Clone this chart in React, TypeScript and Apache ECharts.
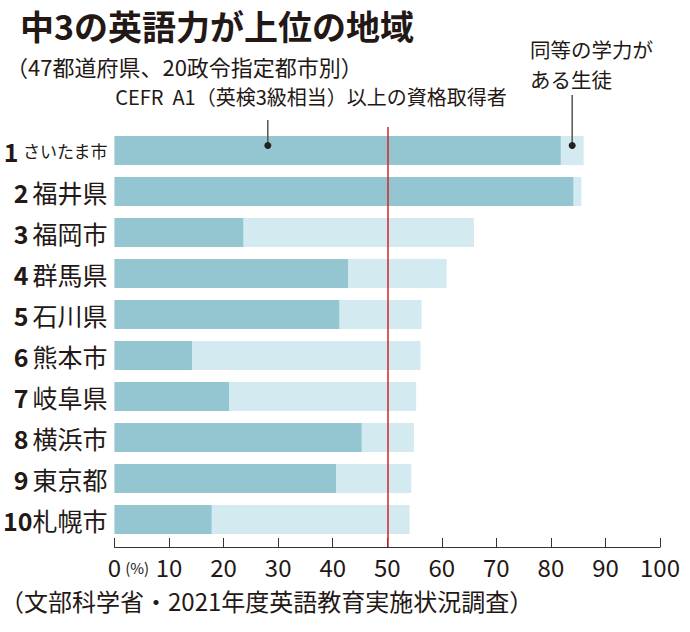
import React, { useEffect, useRef } from "react";
import * as echarts from "echarts";

const ranks = [1, 2, 3, 4, 5, 6, 7, 8, 9, 10];
const regions = ["さいたま市", "福井県", "福岡市", "群馬県", "石川県", "熊本市", "岐阜県", "横浜市", "東京都", "札幌市"];
// CEFR A1 (英検3級相当) 以上の資格取得者
const certified = [81.8, 84.1, 23.6, 42.8, 41.2, 14.2, 21.0, 45.3, 40.6, 17.8];
// 同等の学力がある生徒 (合計)
const equivalent = [86.0, 85.6, 65.9, 60.9, 56.3, 56.1, 55.3, 54.9, 54.4, 54.1];
const referenceLine = 50;

const title = "中3の英語力が上位の地域";
const subtitle = "（47都道府県、20政令指定都市別）";
const noteCert = "CEFR  A1（英検3級相当）以上の資格取得者";
const noteEquiv1 = "同等の学力が";
const noteEquiv2 = "ある生徒";
const source = "（文部科学省・2021年度英語教育実施状況調査）";

const FONT = '"Noto Sans CJK JP", "Noto Sans", sans-serif';
const INK = "#231815";

export default function App() {
  const ref = useRef<HTMLDivElement>(null);

  useEffect(() => {
    document.body.style.margin = "0";
    if (!ref.current) return;
    const chart = echarts.init(ref.current, null, { renderer: "svg" });
    const cats = regions.map((r, i) => `${ranks[i]}|${r}`);

    chart.setOption({
      animation: false,
      textStyle: { fontFamily: FONT, color: INK },
      grid: [
        { left: 114.5, right: 30, top: 130, bottom: 92 },
        { left: 114.5, right: 30, top: 127, bottom: 85 },
      ],
      xAxis: [
        {
          type: "value",
          gridIndex: 0,
          min: 0,
          max: 100,
          interval: 10,
          offset: 7,
          splitLine: { show: false },
          axisLine: { show: true, lineStyle: { color: "#333", width: 1.2 } },
          axisTick: { show: true, inside: true, length: 9, lineStyle: { color: "#333", width: 1 } },
          axisLabel: {
            margin: 7,
            lineHeight: 24,
            color: INK,
            fontFamily: FONT,
            fontSize: 24,
            formatter: (v: number) =>
              v === 0 ? "{e|}{a|0}{p|(%)}" : `{a|${v}}`,
            rich: {
              a: { fontSize: 24, fontFamily: FONT, color: INK, lineHeight: 24 },
              p: { fontSize: 15, fontFamily: FONT, color: INK, width: 28, align: "left", padding: [3, 0, 0, 2] },
              e: { width: 30 },
            },
          },
        },
        { type: "value", gridIndex: 1, min: 0, max: 100, show: false },
      ],
      yAxis: [
        {
          type: "category",
          gridIndex: 0,
          data: cats,
          inverse: true,
          axisLine: { show: false },
          axisTick: { show: false },
          axisLabel: {
            margin: 7,
            formatter: (v: string) => {
              const [r, name] = v.split("|");
              const style = name.length > 3 ? "k" : "m";
              return Number(r) < 10
                ? `{n|${r}}{g|}{${style}|${name}}`
                : `{n|${r}}{${style}|${name}}`;
            },
            rich: {
              n: { fontSize: 25, fontWeight: "bold", fontFamily: FONT, color: INK, width: 26, align: "right" },
              g: { width: 4 },
              m: { fontSize: 25, fontFamily: FONT, color: INK },
              k: { fontSize: 17, fontFamily: FONT, color: INK },
            },
          },
        },
        { type: "value", gridIndex: 1, show: false, min: 0, max: 1 },
      ],
      series: [
        {
          name: "同等の学力がある生徒",
          type: "bar",
          xAxisIndex: 0,
          yAxisIndex: 0,
          data: equivalent,
          barWidth: 29,
          barGap: "-100%",
          itemStyle: { color: "#d3ebf0" },
        },
        {
          name: "CEFR A1以上の資格取得者",
          type: "bar",
          xAxisIndex: 0,
          yAxisIndex: 0,
          data: certified,
          barWidth: 29,
          barGap: "-100%",
          itemStyle: { color: "#94c6d1" },
        },
        {
          type: "line",
          xAxisIndex: 1,
          yAxisIndex: 1,
          data: [],
          silent: true,
          markLine: {
            silent: true,
            symbol: "none",
            label: { show: false },
            lineStyle: { color: "#d2232a", width: 1.5, type: "solid" },
            data: [{ xAxis: referenceLine }],
          },
        },
      ],
    });

    // Annotation leaders placed through the chart's own scales
    const first = cats[0];
    const certDotVal = 28.1;
    const equivDotVal = (certified[0] + equivalent[0]) / 2;
    const pc = chart.convertToPixel({ xAxisIndex: 0, yAxisIndex: 0 }, [certDotVal, first]) as number[];
    const pe = chart.convertToPixel({ xAxisIndex: 0, yAxisIndex: 0 }, [equivDotVal, first]) as number[];
    const dotY = pc[1] - 5;

    chart.setOption({
      graphic: [
        {
          type: "text",
          x: 20,
          y: 25,
          style: { text: title, font: `bold 34px ${FONT}`, fill: INK, verticalAlign: "middle", lineHeight: 34 },
        },
        {
          type: "text",
          x: 6,
          y: 65.5,
          style: { text: subtitle, font: `22px ${FONT}`, fill: INK, verticalAlign: "middle", lineHeight: 22 },
        },
        {
          type: "text",
          x: 311,
          y: 96,
          style: { text: noteCert, font: `20px ${FONT}`, fill: INK, align: "center", verticalAlign: "middle", lineHeight: 20 },
        },
        {
          type: "text",
          x: 530,
          y: 49,
          style: { text: noteEquiv1, font: `20.5px ${FONT}`, fill: INK, verticalAlign: "middle", lineHeight: 20 },
        },
        {
          type: "text",
          x: 530,
          y: 79,
          style: { text: noteEquiv2, font: `20.5px ${FONT}`, fill: INK, verticalAlign: "middle", lineHeight: 20 },
        },
        {
          type: "line",
          z: 100,
          shape: { x1: pc[0], y1: 120, x2: pc[0], y2: dotY },
          style: { stroke: "#555", lineWidth: 1.5 },
        },
        { type: "circle", z: 101, shape: { cx: pc[0], cy: dotY, r: 3.5 }, style: { fill: "#222" } },
        {
          type: "line",
          z: 100,
          shape: { x1: pe[0], y1: 95, x2: pe[0], y2: dotY },
          style: { stroke: "#555", lineWidth: 1.5 },
        },
        { type: "circle", z: 101, shape: { cx: pe[0], cy: dotY, r: 3.5 }, style: { fill: "#222" } },
        {
          type: "text",
          x: 0,
          y: 600,
          style: { text: source, font: `24px ${FONT}`, fill: INK, verticalAlign: "middle", lineHeight: 24 },
        },
      ],
    });

    return () => chart.dispose();
  }, []);

  return <div ref={ref} style={{ width: 690, height: 632 }} />;
}
